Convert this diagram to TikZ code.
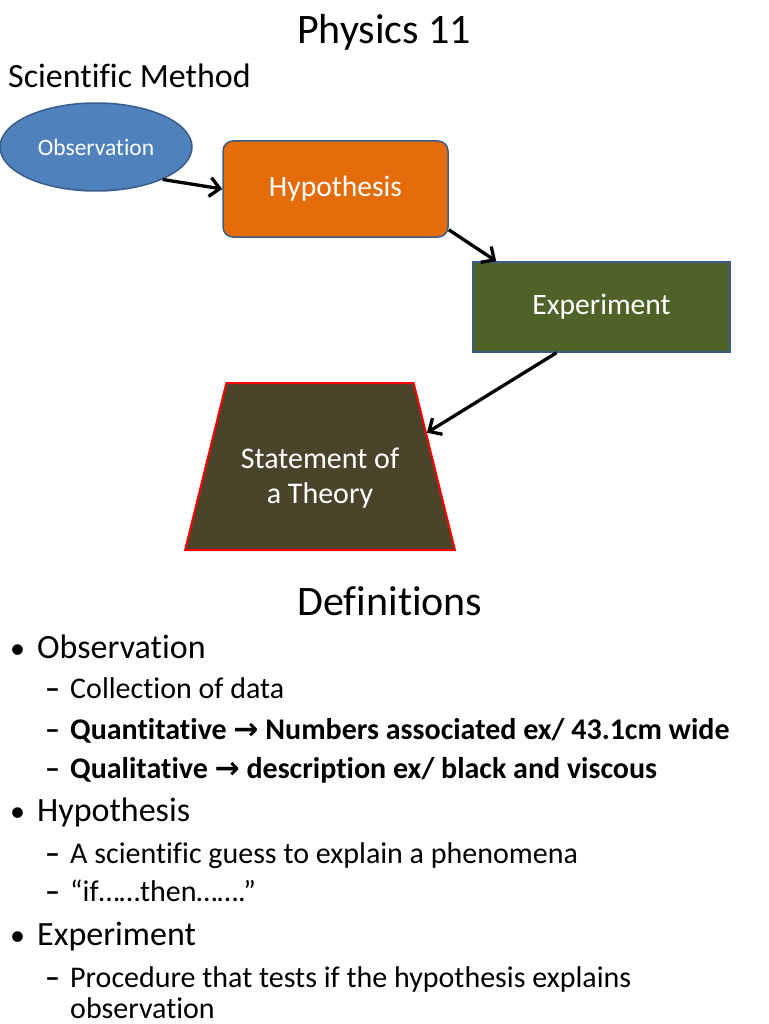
\documentclass[tikz,border=0pt]{standalone}
\usepackage{fontspec}
\setmainfont{Carlito}[Ligatures=NoCommon]
\newfontfamily\arrowfont{DejaVu Sans}
\usetikzlibrary{positioning, calc, arrows.meta, shapes.geometric}
\definecolor{ObsBlue}{HTML}{4F81BD}
\definecolor{EdgeBlue}{HTML}{385D8A}
\definecolor{HypOrange}{HTML}{E46C0A}
\definecolor{ExpGreen}{HTML}{4F6228}
\definecolor{TheoryBrown}{HTML}{4A452A}
\definecolor{EdgeRed}{HTML}{FF0000}
\tikzset{
    ovalnode/.style={ellipse, draw=EdgeBlue, line width=1.5pt, fill=ObsBlue, text=white, inner sep=0pt, font=\fontsize{23.5}{28}\selectfont},
    boxnode/.style={rectangle, draw=EdgeBlue, line width=1.5pt, text=white, inner sep=0pt, font=\fontsize{29.6}{35}\selectfont},
    trapnode/.style={trapezium, trapezium angle=63.5, trapezium stretches=true, draw=EdgeRed, line width=2pt, fill=TheoryBrown, text=white, inner sep=0pt, font=\fontsize{30}{35}\selectfont},
    flow/.style={-{Straight Barb[length=10pt,width=19pt]}, line width=3.3pt, black},
    headnode/.style={anchor=base, inner sep=0pt, font=\fontsize{42}{50}\selectfont},
    lvlone/.style={anchor=base west, inner sep=0pt, font=\fontsize{34}{40}\selectfont},
    lvltwo/.style={anchor=base west, inner sep=0pt, font=\fontsize{30}{35}\selectfont},
}
\newcommand{\bul}{\makebox[27pt][l]{\fontsize{30}{35}\selectfont•}}
\newcommand{\dsh}{\makebox[25pt][l]{\textbf{–}}}
\newcommand{\arr}{{\arrowfont\bfseries →}}

\begin{document}
\begin{tikzpicture}[x=1pt, y=-1pt]
    \fill[white] (0,0) rectangle (768,1024);
    \useasboundingbox (0,0) rectangle (768,1024);

    % Titles
    \node[headnode] (title) at (384,44) {Physics 11};
    \node[anchor=base west, inner sep=0pt, font=\fontsize{34}{40}\selectfont] (method) at (8,88) {Scientific Method};

    % Flow chart
    \node[ovalnode, minimum width=192pt, minimum height=88pt] (obs) at (96,147) {Observation};
    \node[boxnode, fill=HypOrange, rounded corners=10pt, minimum width=225pt, minimum height=96pt] (hyp) at (335.5,189) {Hypothesis};
    \node[boxnode, fill=ExpGreen, minimum width=257pt, minimum height=90pt] (exp) at (601.5,307) {Experiment};
    \node[trapnode, minimum width=270pt, minimum height=167pt] (theory) at (320,466.5)
        {\raisebox{-12pt}[\height][\depth]{\begin{tabular}{@{}c@{}}Statement of\\a Theory\end{tabular}}};

    % Arrows
    \draw[flow] (obs.-26) -- (hyp.west);
    \draw[flow] ([yshift=8pt]hyp.south east) -- ([xshift=24pt]exp.north west);
    \draw[flow] ([xshift=-45pt]exp.south) -- ($(theory.top right corner)!0.3!(theory.bottom right corner)$);

    % Definitions
    \node[headnode] (defs) at (390,615) {Definitions};
    \node[lvlone] (d1) at (10,658) {\bul Observation};
    \node[lvltwo] (d1a) at (45,698) {\dsh Collection of data};
    \node[lvltwo, font=\fontsize{30}{35}\selectfont\bfseries] (d1b) at (45,739) {\dsh Quantitative \arr{} Numbers associated ex/ 43.1cm wide};
    \node[lvltwo, font=\fontsize{30}{35}\selectfont\bfseries] (d1c) at (45,778) {\dsh Qualitative \arr{} description ex/ black and viscous};
    \node[lvlone] (d2) at (10,821) {\bul Hypothesis};
    \node[lvltwo] (d2a) at (45,863) {\dsh A scientific guess to explain a phenomena};
    \node[lvltwo] (d2b) at (45,901) {\dsh “if……then…….”};
    \node[lvlone] (d3) at (10,945) {\bul Experiment};
    \node[lvltwo] (d3a) at (45,987) {\dsh Procedure that tests if the hypothesis explains};
    \node[lvltwo] (d3b) at (70,1018) {observation};
\end{tikzpicture}
\end{document}
